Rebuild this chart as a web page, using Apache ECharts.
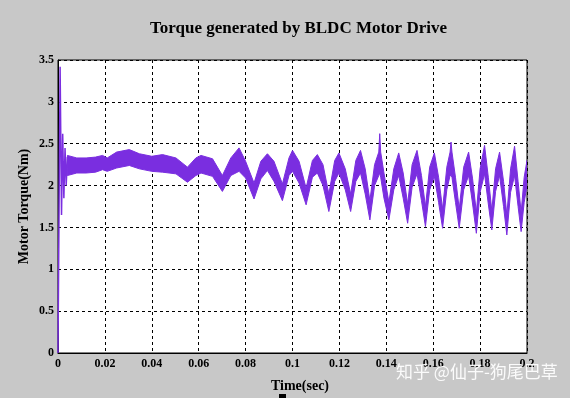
<!DOCTYPE html>
<html>
<head>
<meta charset="utf-8">
<script src="https://cdn.jsdelivr.net/npm/echarts@6/dist/echarts.min.js"></script>
<style>
  html, body { margin: 0; padding: 0; background: #c8c8c8; }
  #torque-chart { width: 570px; height: 398px; }
</style>
</head>
<body>
<div id="torque-chart"></div>
<script>
// start-up transient (thin line)
var startT = [0, 0.0009, 0.0015, 0.002, 0.0025, 0.003, 0.0035, 0.004];
var startV = [0, 3.42, 1.65, 2.62, 1.85, 2.45, 2.0, 2.34];

// ripple band: time, upper edge, lower edge
var bandT = [0.004, 0.008, 0.012, 0.016, 0.019, 0.021, 0.025, 0.0304, 0.0347, 0.04,
  0.0446, 0.0503, 0.0552, 0.0588, 0.061, 0.0659, 0.0701, 0.0737, 0.0772, 0.08,
  0.0836, 0.0865, 0.0893, 0.0921, 0.0957, 0.0985, 0.1, 0.1028, 0.1058, 0.1085,
  0.1106, 0.113, 0.1155, 0.118, 0.1198, 0.1225, 0.1248, 0.127, 0.129, 0.131,
  0.133, 0.135, 0.1368, 0.1372, 0.1376, 0.139, 0.1411, 0.1432, 0.1453, 0.1472,
  0.1491, 0.151, 0.1531, 0.155, 0.1567, 0.1585, 0.1605, 0.1623, 0.164, 0.1658,
  0.1672, 0.1676, 0.168, 0.1695, 0.1711, 0.173, 0.1751, 0.1768, 0.1784, 0.18,
  0.1819, 0.1835, 0.185, 0.1866, 0.1883, 0.19, 0.1914, 0.193, 0.1947, 0.1962,
  0.1975, 0.1988, 0.2];
var bandHi = [2.36, 2.33, 2.33, 2.34, 2.36, 2.33, 2.40, 2.43, 2.38, 2.35,
  2.37, 2.33, 2.22, 2.33, 2.36, 2.32, 2.12, 2.33, 2.45, 2.29,
  2.03, 2.29, 2.38, 2.29, 2.02, 2.33, 2.42, 2.29, 1.97, 2.30,
  2.37, 2.25, 1.90, 2.30, 2.39, 2.20, 1.90, 2.30, 2.42, 2.20,
  1.82, 2.25, 2.40, 2.62, 2.40, 2.15, 1.80, 2.20, 2.39, 2.15,
  1.78, 2.25, 2.42, 2.12, 1.75, 2.22, 2.39, 2.10, 1.72, 2.22,
  2.40, 2.52, 2.40, 2.10, 1.72, 2.22, 2.40, 2.08, 1.68, 2.20,
  2.48, 2.10, 1.70, 2.20, 2.40, 2.05, 1.65, 2.20, 2.47, 2.05,
  1.68, 2.10, 2.30];
var bandLo = [2.12, 2.15, 2.15, 2.16, 2.19, 2.17, 2.21, 2.24, 2.20, 2.17,
  2.16, 2.14, 2.04, 2.12, 2.15, 2.11, 1.93, 2.12, 2.17, 2.09,
  1.84, 2.08, 2.18, 2.05, 1.82, 2.12, 2.17, 2.03, 1.77, 2.10,
  2.15, 2.00, 1.69, 2.05, 2.15, 1.95, 1.69, 2.05, 2.15, 1.90,
  1.59, 2.00, 2.12, 2.15, 2.10, 1.85, 1.59, 1.95, 2.12, 1.85,
  1.55, 1.98, 2.14, 1.82, 1.51, 1.95, 2.11, 1.80, 1.49, 1.95,
  2.12, 2.12, 2.10, 1.80, 1.49, 1.95, 2.12, 1.78, 1.43, 1.92,
  2.14, 1.78, 1.47, 1.93, 2.12, 1.75, 1.41, 1.92, 2.12, 1.75,
  1.45, 1.80, 2.00];

var purple = '#7a2ee0';
var labelFont = { color: '#000', fontFamily: 'Liberation Serif', fontWeight: 'bold', fontSize: 12 };

var dom = document.getElementById('torque-chart');
var myChart = echarts.init(dom);

var startData = startT.map(function (t, i) { return [t, startV[i]]; });

var option = {
  backgroundColor: '#c8c8c8',
  animation: false,
  title: {
    text: 'Torque generated by BLDC Motor Drive',
    left: 145,
    top: 15,
    textStyle: { fontFamily: 'Liberation Serif', fontWeight: 'bold', fontSize: 17, color: '#000' }
  },
  grid: {
    show: true,
    left: 58,
    right: 43,
    top: 60,
    bottom: 45,
    backgroundColor: '#fff',
    borderColor: '#000',
    borderWidth: 1
  },
  xAxis: {
    type: 'value',
    min: 0,
    max: 0.2,
    interval: 0.02,
    name: 'Time(sec)',
    nameLocation: 'middle',
    nameGap: 26,
    nameTextStyle: {
      fontFamily: 'Liberation Serif', fontWeight: 'bold', fontSize: 14, color: '#000',
      padding: [0, 0, 0, 15]
    },
    axisLine: { lineStyle: { color: '#000', width: 1 } },
    axisTick: { show: false },
    axisLabel: Object.assign({ margin: 5 }, labelFont),
    splitLine: { show: true, lineStyle: { color: '#000', type: [3, 3], width: 1 } }
  },
  yAxis: {
    type: 'value',
    min: 0,
    max: 3.5,
    interval: 0.5,
    name: 'Motor Torque(Nm)',
    nameLocation: 'middle',
    nameGap: 27,
    nameMoveOverlap: false,
    nameTextStyle: { fontFamily: 'Liberation Serif', fontWeight: 'bold', fontSize: 14, color: '#000' },
    axisLine: { show: true, lineStyle: { color: '#000', width: 1 } },
    axisTick: { show: false },
    axisLabel: Object.assign({ margin: 4 }, labelFont),
    splitLine: { show: true, lineStyle: { color: '#000', type: [3, 3], width: 1 } }
  },
  graphic: [
    {
      type: 'text',
      left: 396,
      top: 363,
      z: 100,
      style: {
        text: '知乎 @仙子-狗尾巴草',
        fill: 'rgba(255,255,255,0.92)',
        font: '17px "Noto Sans CJK SC"'
      }
    },
    {
      type: 'rect',
      shape: { x: 279, y: 394, width: 7, height: 4 },
      style: { fill: '#000' }
    }
  ],
  series: [
    {
      name: 'band',
      type: 'custom',
      clip: true,
      data: [[0.1, 2]],
      renderItem: function (params, api) {
        var pts = [];
        for (var i = 0; i < bandT.length; i++) {
          pts.push(api.coord([bandT[i], bandHi[i]]));
        }
        for (var j = bandT.length - 1; j >= 0; j--) {
          pts.push(api.coord([bandT[j], bandLo[j]]));
        }
        return {
          type: 'polygon',
          shape: { points: pts },
          style: { fill: purple, stroke: purple, lineWidth: 1 }
        };
      }
    },
    {
      name: 'start',
      type: 'line',
      data: startData,
      symbol: 'none',
      lineStyle: { color: purple, width: 1.5 }
    }
  ]
};

if (option && typeof option === 'object') {
  myChart.setOption(option);
}
</script>
</body>
</html>
